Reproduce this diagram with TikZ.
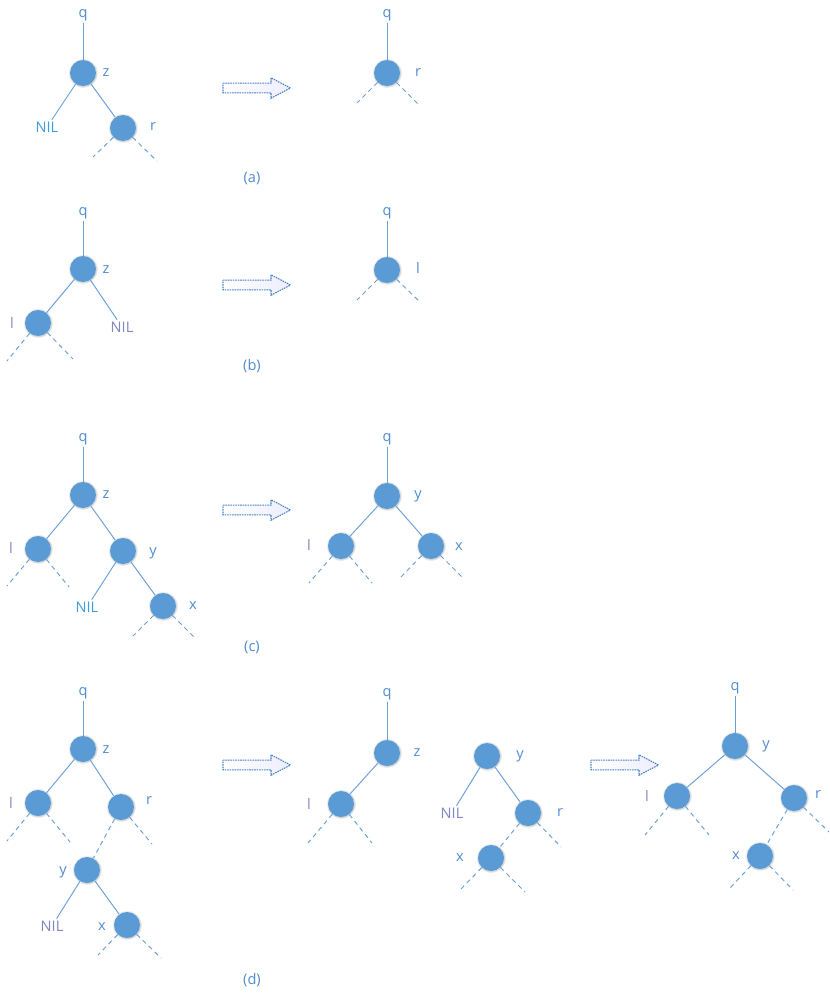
\documentclass[tikz,border=0pt]{standalone}
\usepackage{fontspec}
\setmainfont{Open Sans}
\usetikzlibrary{arrows.meta, positioning, shadows}
\definecolor{nodeblue}{HTML}{5B9BD5}
\definecolor{edgeblue}{HTML}{6A9FD8}
\definecolor{arrowblue}{HTML}{4A80C4}
\definecolor{txtblue}{HTML}{4F8CD0}
\definecolor{txtgrey}{HTML}{7F86C0}
\definecolor{nilblue}{HTML}{3F9BE0}
\tikzset{
  vtx/.style={circle, fill=nodeblue, minimum size=0.52cm, inner sep=0pt,
    circular drop shadow={shadow xshift=0pt, shadow yshift=0pt, shadow scale=1.15, opacity=0.35}},
  lbl/.style={text=txtblue, font=\fontsize{8.3}{9}\selectfont, inner sep=1pt},
  edge/.style={draw=edgeblue, line width=0.55pt},
  sub/.style={edge, dash pattern=on 2.6pt off 2.2pt},
  fatarrow/.pic={
    \path[draw=arrowblue, dash pattern=on 0.9pt off 0.5pt, line width=0.6pt, left color=white, right color=blue!7]
      (0,-4.8) -- (48,-4.8) -- (48,-10.2) -- (67.5,0) -- (48,10.2) -- (48,4.8) -- (0,4.8) -- cycle;
  }
}

\begin{document}
\begin{tikzpicture}[x=0.02cm, y=-0.02cm]
				\useasboundingbox (0,0) rectangle (829,997);

				% (a)
				\node[lbl] (qa) at (83,15) {q};
				\node[vtx] (za) at (83,73) {};
				\node[lbl] (za-l) at (106,73) {z};
				\node[lbl, text=nilblue] (nila) at (47,127) {NIL};
				\node[vtx] (ra) at (123,128) {};
				\node[lbl] (ra-l) at (153,127) {r};
				\coordinate (ra-1) at (93,157);
				\coordinate (ra-2) at (157,161);
				\draw[edge] (qa) -- (za);
				\draw[edge] (za) -- (nila);
				\draw[edge] (za) -- (ra);
				\draw[sub] (ra) -- (ra-1);
				\draw[sub] (ra) -- (ra-2);

				\pic at (223,88) {fatarrow};

				\node[lbl] (qa2) at (387,15) {q};
				\node[vtx] (ra2) at (387,73) {};
				\node[lbl] (ra2-l) at (418,73) {r};
				\coordinate (ra2-1) at (357,103);
				\coordinate (ra2-2) at (420,106);
				\draw[edge] (qa2) -- (ra2);
				\draw[sub] (ra2) -- (ra2-1);
				\draw[sub] (ra2) -- (ra2-2);
				\node[lbl] (cap-a) at (252,178) {(a)};

				% (b)
				\node[lbl] (qb) at (83,213) {q};
				\node[vtx] (zb) at (83,269) {};
				\node[lbl] (zb-l) at (106,270) {z};
				\node[vtx] (lb) at (38,323) {};
				\node[lbl, text=txtgrey] (lb-l) at (12,323) {l};
				\node[lbl, text=txtgrey] (nilb) at (122,327) {NIL};
				\coordinate (lb-1) at (7,361);
				\coordinate (lb-2) at (73,359);
				\draw[edge] (qb) -- (zb);
				\draw[edge] (zb) -- (lb);
				\draw[edge] (zb) -- (nilb);
				\draw[sub] (lb) -- (lb-1);
				\draw[sub] (lb) -- (lb-2);

				\pic at (223,285) {fatarrow};

				\node[lbl] (qb2) at (387,213) {q};
				\node[vtx] (lb2) at (387,270) {};
				\node[lbl] (lb2-l) at (418,268) {l};
				\coordinate (lb2-1) at (357,300);
				\coordinate (lb2-2) at (420,302);
				\draw[edge] (qb2) -- (lb2);
				\draw[sub] (lb2) -- (lb2-1);
				\draw[sub] (lb2) -- (lb2-2);
				\node[lbl] (cap-b) at (252,366) {(b)};

				% (c)
				\node[lbl] (qc) at (83,439) {q};
				\node[vtx] (zc) at (83,495) {};
				\node[lbl] (zc-l) at (106,495) {z};
				\node[vtx] (lc) at (38,549) {};
				\node[lbl, text=txtgrey] (lc-l) at (11,548) {l};
				\node[vtx] (yc) at (123,551) {};
				\node[lbl] (yc-l) at (153,553) {y};
				\node[lbl, text=nilblue] (nilc) at (87,607) {NIL};
				\node[vtx] (xc) at (163,606) {};
				\node[lbl] (xc-l) at (193,606) {x};
				\coordinate (lc-1) at (7,586);
				\coordinate (lc-2) at (69,587);
				\coordinate (xc-1) at (133,636);
				\coordinate (xc-2) at (196,639);
				\draw[edge] (qc) -- (zc);
				\draw[edge] (zc) -- (lc);
				\draw[edge] (zc) -- (yc);
				\draw[edge] (yc) -- (nilc);
				\draw[edge] (yc) -- (xc);
				\draw[sub] (lc) -- (lc-1);
				\draw[sub] (lc) -- (lc-2);
				\draw[sub] (xc) -- (xc-1);
				\draw[sub] (xc) -- (xc-2);

				\pic at (223,510) {fatarrow};

				\node[lbl] (qc2) at (387,439) {q};
				\node[vtx] (yc2) at (387,496) {};
				\node[lbl] (yc2-l) at (418,496) {y};
				\node[vtx] (lc2) at (341,546) {};
				\node[lbl, text=txtgrey] (lc2-l) at (309,545) {l};
				\node[vtx] (xc2) at (431,546) {};
				\node[lbl] (xc2-l) at (459,547) {x};
				\coordinate (lc2-1) at (309,583);
				\coordinate (lc2-2) at (372,583);
				\coordinate (xc2-1) at (401,577);
				\coordinate (xc2-2) at (464,579);
				\draw[edge] (qc2) -- (yc2);
				\draw[edge] (yc2) -- (lc2);
				\draw[edge] (yc2) -- (xc2);
				\draw[sub] (lc2) -- (lc2-1);
				\draw[sub] (lc2) -- (lc2-2);
				\draw[sub] (xc2) -- (xc2-1);
				\draw[sub] (xc2) -- (xc2-2);
				\node[lbl] (cap-c) at (252,647) {(c)};

				% (d)
				\node[lbl] (qd) at (83,693) {q};
				\node[vtx] (zd) at (83,749) {};
				\node[lbl] (zd-l) at (106,750) {z};
				\node[vtx] (ld) at (38,803) {};
				\node[lbl, text=txtgrey] (ld-l) at (11,803) {l};
				\node[vtx] (rd) at (121,807) {};
				\node[lbl] (rd-l) at (149,801) {r};
				\node[vtx] (yd) at (87,870) {};
				\node[lbl] (yd-l) at (63,872) {y};
				\node[lbl, text=txtgrey] (nild) at (52,926) {NIL};
				\node[vtx] (xd) at (127,925) {};
				\node[lbl] (xd-l) at (102,927) {x};
				\coordinate (ld-1) at (7,841);
				\coordinate (ld-2) at (70,842);
				\coordinate (rd-2) at (152,844);
				\coordinate (xd-1) at (98,955);
				\coordinate (xd-2) at (161,958);
				\draw[edge] (qd) -- (zd);
				\draw[edge] (zd) -- (ld);
				\draw[edge] (zd) -- (rd);
				\draw[edge] (yd) -- (nild);
				\draw[edge] (yd) -- (xd);
				\draw[sub] (ld) -- (ld-1);
				\draw[sub] (ld) -- (ld-2);
				\draw[sub] (rd) -- (yd);
				\draw[sub] (rd) -- (rd-2);
				\draw[sub] (xd) -- (xd-1);
				\draw[sub] (xd) -- (xd-2);

				\pic at (223,765) {fatarrow};

				\node[lbl] (qd2) at (387,694) {q};
				\node[vtx] (zd2) at (387,753) {};
				\node[lbl] (zd2-l) at (417,753) {z};
				\node[vtx] (ld2) at (341,804) {};
				\node[lbl, text=txtgrey] (ld2-l) at (309,804) {l};
				\coordinate (ld2-1) at (308,843);
				\coordinate (ld2-2) at (372,843);
				\draw[edge] (qd2) -- (zd2);
				\draw[edge] (zd2) -- (ld2);
				\draw[sub] (ld2) -- (ld2-1);
				\draw[sub] (ld2) -- (ld2-2);

				\node[vtx] (yd2) at (487,756) {};
				\node[lbl] (yd2-l) at (520,756) {y};
				\node[lbl, text=txtgrey] (nild2) at (452,813) {NIL};
				\node[vtx] (rd2) at (528,813) {};
				\node[lbl] (rd2-l) at (560,813) {r};
				\node[vtx] (xd2) at (491,858) {};
				\node[lbl] (xd2-l) at (460,858) {x};
				\coordinate (rd2-2) at (561,847);
				\coordinate (xd2-1) at (461,889);
				\coordinate (xd2-2) at (525,892);
				\draw[edge] (yd2) -- (nild2);
				\draw[edge] (yd2) -- (rd2);
				\draw[sub] (rd2) -- (xd2);
				\draw[sub] (rd2) -- (rd2-2);
				\draw[sub] (xd2) -- (xd2-1);
				\draw[sub] (xd2) -- (xd2-2);

				\pic at (591,765) {fatarrow};

				\node[lbl] (qd3) at (735,688) {q};
				\node[vtx] (yd3) at (735,746) {};
				\node[lbl] (yd3-l) at (766,746) {y};
				\node[vtx] (ld3) at (677,796) {};
				\node[lbl, text=txtgrey] (ld3-l) at (647,796) {l};
				\node[vtx] (rd3) at (794,798) {};
				\node[lbl] (rd3-l) at (818,795) {r};
				\node[vtx] (xd3) at (760,856) {};
				\node[lbl] (xd3-l) at (736,856) {x};
				\coordinate (ld3-1) at (645,835);
				\coordinate (ld3-2) at (709,835);
				\coordinate (rd3-2) at (829,832);
				\coordinate (xd3-1) at (730,888);
				\coordinate (xd3-2) at (793,890);
				\draw[edge] (qd3) -- (yd3);
				\draw[edge] (yd3) -- (ld3);
				\draw[edge] (yd3) -- (rd3);
				\draw[sub] (ld3) -- (ld3-1);
				\draw[sub] (ld3) -- (ld3-2);
				\draw[sub] (rd3) -- (xd3);
				\draw[sub] (rd3) -- (rd3-2);
				\draw[sub] (xd3) -- (xd3-1);
				\draw[sub] (xd3) -- (xd3-2);
				\node[lbl] (cap-d) at (252,980) {(d)};
			\end{tikzpicture}
\end{document}
